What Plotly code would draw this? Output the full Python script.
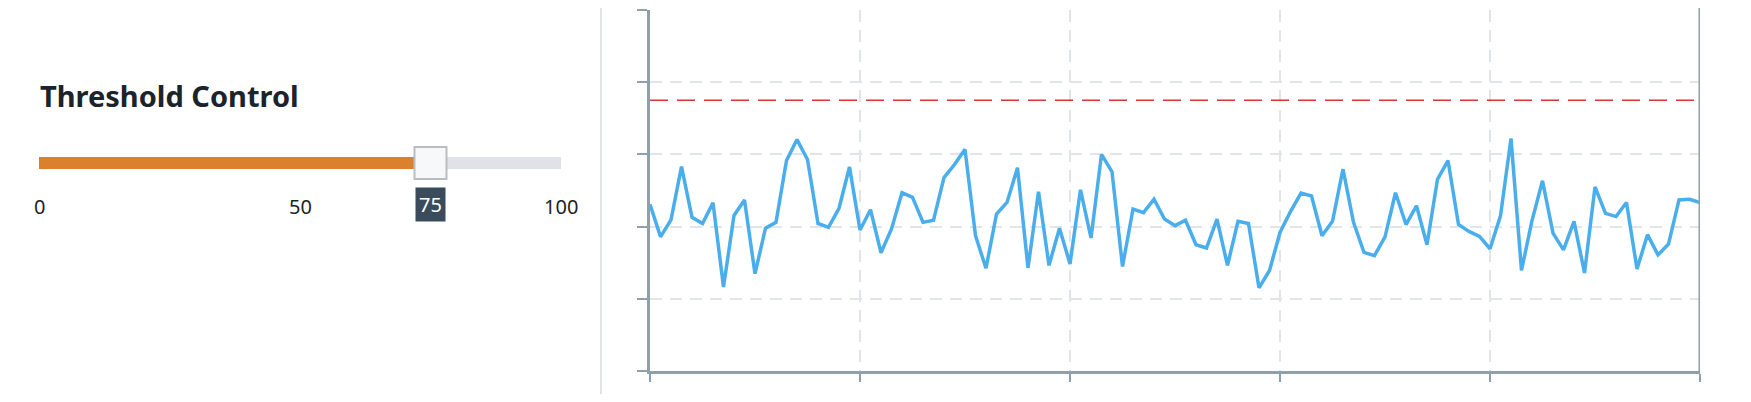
""" Threshold control + signal line """

import plotly.graph_objs as go

# data
x_vals = list(range(101))
signal = [46.2, 37.2, 41.9, 56.6, 42.6, 40.9, 46.6, 23.3, 43.1, 47.4,
          27.0, 39.6, 41.2, 58.3, 64.1, 58.6, 40.9, 39.8, 45.1, 56.5,
          39.1, 44.7, 32.8, 39.4, 49.4, 48.1, 41.2, 41.8, 53.6, 57.2,
          61.4, 37.5, 28.5, 43.5, 46.7, 56.3, 28.6, 49.7, 29.3, 39.6,
          29.7, 50.2, 36.9, 60.0, 55.2, 29.0, 44.9, 43.9, 47.6, 42.1,
          40.3, 41.8, 35.0, 34.1, 42.1, 29.3, 41.5, 40.9, 23.1, 27.9,
          38.4, 44.2, 49.3, 48.5, 37.5, 41.5, 55.9, 41.2, 32.9, 32.0,
          37.2, 49.4, 40.6, 45.8, 35.0, 53.1, 58.3, 40.6, 38.7, 37.3,
          33.9, 43.0, 64.4, 27.9, 41.7, 52.7, 38.2, 33.6, 41.5, 27.2,
          51.0, 43.7, 42.8, 46.7, 28.3, 37.8, 32.2, 35.2, 47.4, 47.6, 46.7]
threshold = 75
slider_min, slider_max = 0, 100
slider_ticks = [0, 50, 100]

# page has an 8px body margin, so the figure is drawn 8px in from the corner
OFF = 8
W, H = 1751 - 2 * OFF, 402 - 2 * OFF
px = lambda v: (v - OFF) / W
py = lambda v: 1 - (v - OFF) / H

fig = go.Figure()

# main chart
fig.add_trace(go.Scatter(x=x_vals, y=signal, mode="lines",
                         line=dict(color="#4aaeed", width=3.5), hoverinfo="skip"))
fig.add_hline(y=threshold, line=dict(color="#d8343a", width=1.5, dash="18px,9px"))
fig.add_annotation(x=1, xref="paper", xanchor="left", xshift=12, y=threshold,
                   yref="y", text=str(threshold), showarrow=False,
                   font=dict(color="#ef7b7b", size=19))

# slider (second axis pair)
fig.add_trace(go.Scatter(x=[threshold, slider_max], y=[0, 0], xaxis="x2", yaxis="y2",
                         mode="lines", line=dict(color="#dfe2e6", width=12),
                         hoverinfo="skip"))
fig.add_trace(go.Scatter(x=[slider_max], y=[0], xaxis="x2", yaxis="y2", mode="markers",
                         marker=dict(color="#dfe2e6", size=12), hoverinfo="skip"))
fig.add_trace(go.Scatter(x=[slider_min, threshold], y=[0, 0], xaxis="x2", yaxis="y2",
                         mode="lines", line=dict(color="#db812d", width=12),
                         hoverinfo="skip"))
fig.add_trace(go.Scatter(x=[slider_min], y=[0], xaxis="x2", yaxis="y2", mode="markers",
                         marker=dict(color="#db812d", size=12), hoverinfo="skip"))
fig.add_trace(go.Scatter(x=[threshold], y=[0], xaxis="x2", yaxis="y2", mode="markers",
                         marker=dict(symbol="square", size=32, color="#f7f8f9",
                                     line=dict(color="#b9bdc2", width=2)),
                         hoverinfo="skip"))
for t in slider_ticks:
    fig.add_annotation(x=t, xref="x2", y=py(206), yref="paper", text=str(t),
                       showarrow=False, font=dict(size=20, color="#222"))
fig.add_annotation(x=threshold, xref="x2", y=py(204), yref="paper", text=str(threshold),
                   showarrow=False, bgcolor="#3a4b5c", borderpad=3,
                   font=dict(size=20, color="white"))
fig.add_annotation(x=px(38), xref="paper", xanchor="left", y=py(95), yref="paper",
                   yanchor="middle", text="<b>Threshold Control</b>", showarrow=False,
                   font=dict(size=29, color="#1c232b"))

# card border with rounded corners
rx, ry = 8 / W, 8 / H
x0, x1, y0, y1 = px(1), px(601), py(399), py(1)
card = (f"M {x0+rx},{y1} L {x1-rx},{y1} Q {x1},{y1} {x1},{y1-ry} "
        f"L {x1},{y0+ry} Q {x1},{y0} {x1-rx},{y0} L {x0+rx},{y0} "
        f"Q {x0},{y0} {x0},{y0+ry} L {x0},{y1-ry} Q {x0},{y1} {x0+rx},{y1} Z")
fig.add_shape(type="path", path=card, xref="paper", yref="paper",
              line=dict(color="#d8dce0", width=1.5))
# right axis line of the chart
fig.add_shape(type="line", xref="x", yref="paper", x0=100, x1=100,
              y0=py(371.3), y1=py(7), line=dict(color="#8fa0ab", width=3))

fig.update_layout({
    "width": W, "height": H,
    "margin": dict(l=0, r=0, t=0, b=0),
    "paper_bgcolor": "white", "plot_bgcolor": "white",
    "font": {"family": "Noto Sans"},
    "showlegend": False,
    "xaxis": dict(domain=[px(650), px(1700)], range=[0, 100], dtick=20,
                  showgrid=True, gridcolor="#e1e5e9", griddash="12px,8px", gridwidth=1.5,
                  zeroline=False, showline=True, linecolor="#8fa0ab", linewidth=3,
                  ticks="outside", ticklen=8, tickwidth=1.5, tickcolor="#8fa0ab",
                  showticklabels=False),
    "yaxis": dict(domain=[py(371.3), py(9.8)], range=[0, 100], dtick=20,
                  showgrid=True, gridcolor="#e1e5e9", griddash="12px,8px", gridwidth=1.5,
                  zeroline=False, showline=True, linecolor="#8fa0ab", linewidth=3,
                  ticks="outside", ticklen=10, tickwidth=1.5, tickcolor="#8fa0ab",
                  showticklabels=False),
    "xaxis2": dict(domain=[px(39), px(561)], range=[slider_min, slider_max],
                   anchor="y2", visible=False),
    "yaxis2": dict(domain=[py(213), py(113)], range=[-1, 1], anchor="x2", visible=False),
})

fig.write_html("out.html")
